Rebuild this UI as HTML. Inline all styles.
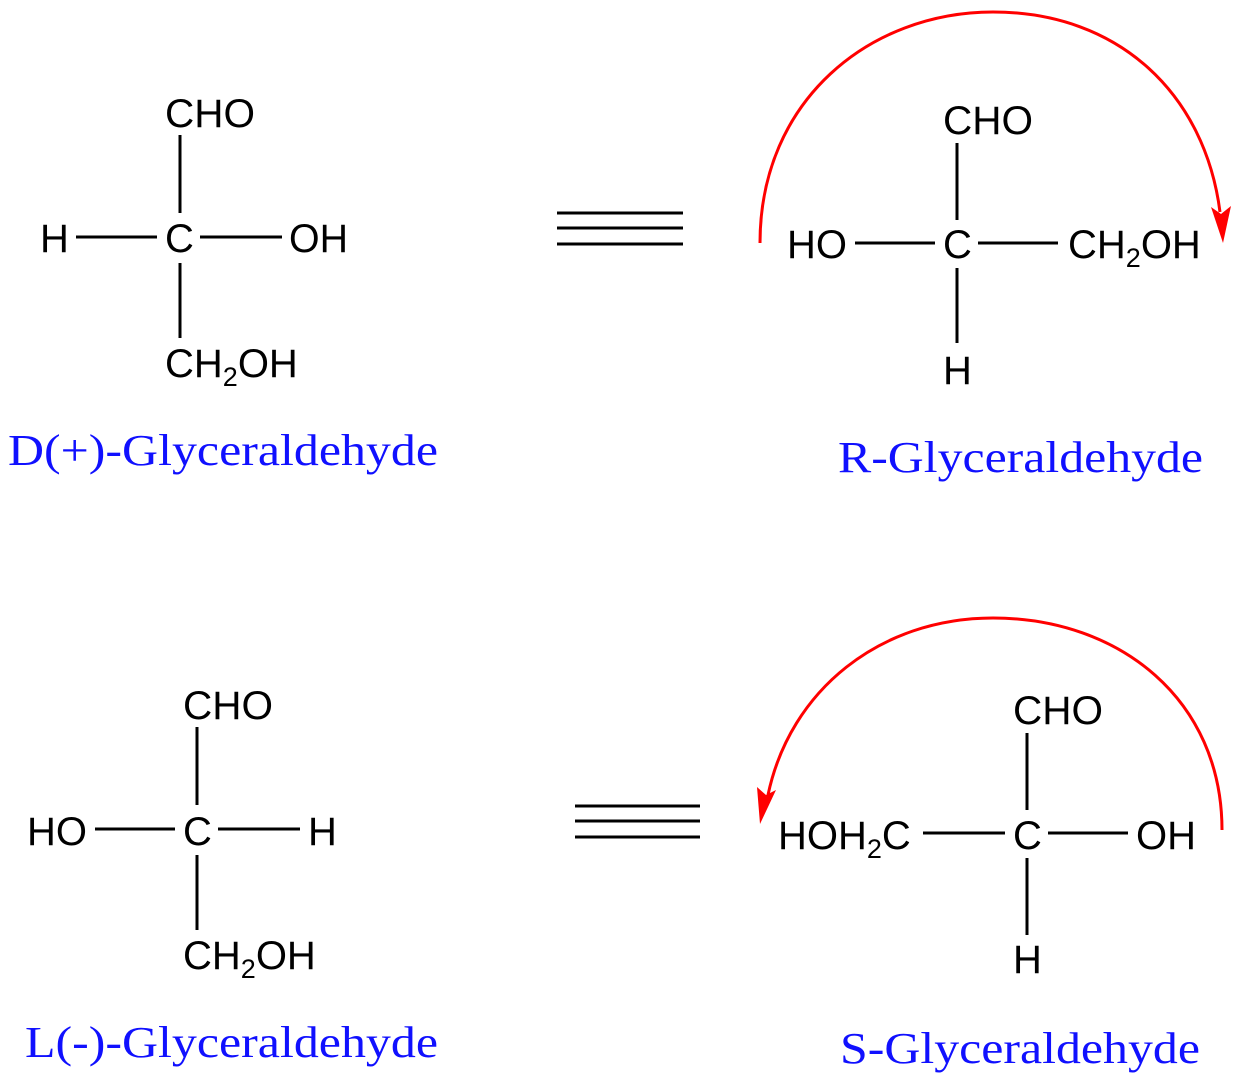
<!DOCTYPE html>
<html><head><meta charset="utf-8"><style>
html,body{margin:0;padding:0;background:#fff;}
svg{display:block}
.t{font-family:"Liberation Sans",Arial,sans-serif;font-size:40px;fill:#000}
.s{font-size:27px}
.l{font-family:"Liberation Serif","Times New Roman",serif;font-size:44px;fill:#1010ff}
</style></head><body>
<svg width="1239" height="1085" viewBox="0 0 1239 1085" xmlns="http://www.w3.org/2000/svg">
<g stroke="#000" stroke-width="3" fill="none">
<line x1="180" y1="135" x2="180" y2="213"/>
<line x1="180" y1="263" x2="180" y2="338"/>
<line x1="76" y1="237" x2="157" y2="237"/>
<line x1="200" y1="237" x2="282" y2="237"/>
<line x1="557" y1="213" x2="683" y2="213"/>
<line x1="557" y1="228" x2="683" y2="228"/>
<line x1="557" y1="244" x2="683" y2="244"/>
<line x1="575" y1="806" x2="700" y2="806"/>
<line x1="575" y1="821" x2="700" y2="821"/>
<line x1="575" y1="837" x2="700" y2="837"/>
<line x1="957" y1="143" x2="957" y2="220"/>
<line x1="957" y1="268" x2="957" y2="343"/>
<line x1="855" y1="243" x2="935" y2="243"/>
<line x1="978" y1="243" x2="1058" y2="243"/>
<line x1="197" y1="727" x2="197" y2="805"/>
<line x1="197" y1="855" x2="197" y2="930"/>
<line x1="95" y1="829" x2="175" y2="829"/>
<line x1="218" y1="829" x2="300" y2="829"/>
<line x1="1027" y1="733" x2="1027" y2="810"/>
<line x1="1027" y1="858" x2="1027" y2="935"/>
<line x1="923" y1="833" x2="1005" y2="833"/>
<line x1="1048" y1="833" x2="1128" y2="833"/>
</g>
<g stroke="#f00" stroke-width="3" fill="none">
<path d="M760,243 C760,100 870,12 993,12 C1120,12 1205,95 1220,212"/>
<path d="M1222,830 C1222,700 1120,618 993,618 C880,618 790,690 768,795"/>
</g>
<polygon points="1223,243 1211,207 1221,214 1231,206" fill="#f00"/>
<polygon points="760,824 757,787 766,795 776,790" fill="#f00"/>

<text class="t" x="165" y="127" textLength="90" lengthAdjust="spacingAndGlyphs">CHO</text>
<text class="t" x="40" y="252">H</text>
<text class="t" x="165" y="252">C</text>
<text class="t" x="289" y="252" textLength="59" lengthAdjust="spacingAndGlyphs">OH</text>
<text class="t" x="165" y="377">CH<tspan class="s" dy="9">2</tspan><tspan dy="-9">OH</tspan></text>
<text class="l" x="8" y="465" textLength="430" lengthAdjust="spacingAndGlyphs">D(+)-Glyceraldehyde</text>

<text class="t" x="943" y="134" textLength="90" lengthAdjust="spacingAndGlyphs">CHO</text>
<text class="t" x="787" y="258" textLength="60" lengthAdjust="spacingAndGlyphs">HO</text>
<text class="t" x="943" y="258">C</text>
<text class="t" x="1068" y="258">CH<tspan class="s" dy="9">2</tspan><tspan dy="-9">OH</tspan></text>
<text class="t" x="943" y="384">H</text>
<text class="l" x="838" y="472" textLength="365" lengthAdjust="spacingAndGlyphs">R-Glyceraldehyde</text>

<text class="t" x="183" y="719" textLength="90" lengthAdjust="spacingAndGlyphs">CHO</text>
<text class="t" x="27" y="845" textLength="60" lengthAdjust="spacingAndGlyphs">HO</text>
<text class="t" x="183" y="845">C</text>
<text class="t" x="308" y="845">H</text>
<text class="t" x="183" y="969">CH<tspan class="s" dy="9">2</tspan><tspan dy="-9">OH</tspan></text>
<text class="l" x="25" y="1057" textLength="413" lengthAdjust="spacingAndGlyphs">L(-)-Glyceraldehyde</text>

<text class="t" x="1013" y="724" textLength="90" lengthAdjust="spacingAndGlyphs">CHO</text>
<text class="t" x="778" y="849">HOH<tspan class="s" dy="9">2</tspan><tspan dy="-9">C</tspan></text>
<text class="t" x="1013" y="849">C</text>
<text class="t" x="1136" y="849" textLength="60" lengthAdjust="spacingAndGlyphs">OH</text>
<text class="t" x="1013" y="973">H</text>
<text class="l" x="840" y="1063" textLength="360" lengthAdjust="spacingAndGlyphs">S-Glyceraldehyde</text>
</svg>
</body></html>
